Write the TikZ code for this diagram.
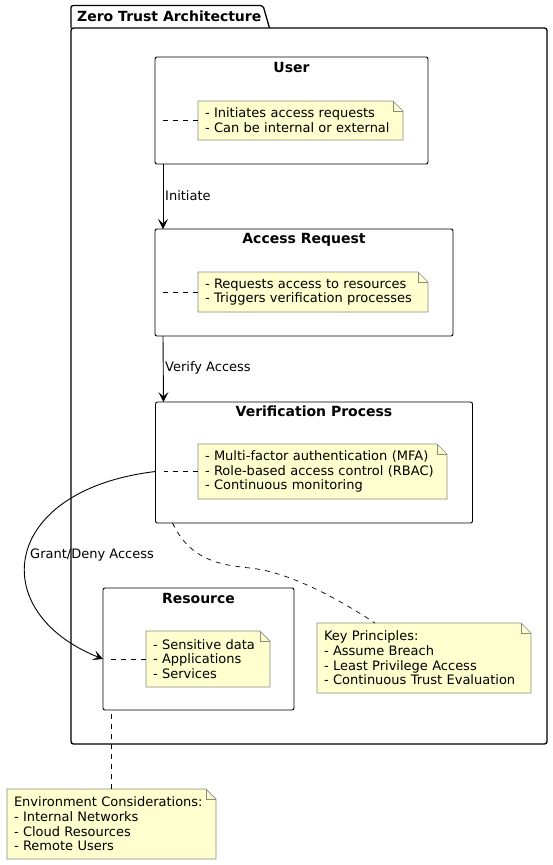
\documentclass[tikz,border=0pt]{standalone}
\usepackage{fontspec}
\setmainfont{DejaVu Sans}
\usetikzlibrary{arrows.meta,backgrounds}
\definecolor{notefill}{HTML}{FEFECE}
\definecolor{noteline}{HTML}{8A8A80}
\tikzset{
  box/.style={draw=black, line width=0.9pt, rounded corners=2pt, minimum width=#1, anchor=north west, inner sep=0pt, outer sep=0pt},
  boxtitle/.style={font=\fontsize{14}{16}\selectfont\bfseries, anchor=center, inner sep=0pt},
  note/.style={anchor=north west, inner xsep=7pt, inner ysep=0pt, outer sep=0pt, align=left, text width=#1, font=\fontsize{13}{14.7}\selectfont},
  elabel/.style={font=\fontsize{13}{15}\selectfont, anchor=west, inner sep=0pt},
  conn/.style={line width=0.9pt, -{Stealth[length=10pt,width=10pt,inset=4.5pt]}},
  notelink/.style={line width=0.7pt, dash pattern=on 5pt off 5pt},
  notebody/.style={fill=notefill, draw=noteline, line width=0.7pt},
}
\newcommand\foldnote[1]{%
  \begin{scope}[on background layer]
    \draw[notebody] (#1.north west) -- ([xshift=-10pt]#1.north east) -- ([yshift=-10pt]#1.north east) -- (#1.south east) -- (#1.south west) -- cycle;
    \draw[draw=noteline, line width=0.7pt] ([xshift=-10pt]#1.north east) |- ([yshift=-10pt]#1.north east);
  \end{scope}}
\begin{document}
\begin{tikzpicture}[x=1pt,y=-1pt]
\useasboundingbox (0,0) rectangle (552,865);
% package
\draw[line width=1.3pt, rounded corners=2.5pt] (71,28) -- (71,744) -- (547,744) -- (547,28) -- cycle;
\draw[line width=1.3pt, rounded corners=2pt] (71,28) -- (71,5.5) -- (263,5.5) -- (269.5,28);
\node[anchor=west, inner sep=0pt, font=\fontsize{14}{16}\selectfont\bfseries] (pkg) at (77,16.5) {Zero Trust Architecture};
% boxes
\node[box=273pt, minimum height=107pt] (user) at (155,57) {};
\node[boxtitle] (usert) at (291.5,67) {User};
\node[box=298pt, minimum height=107pt] (access) at (155,229) {};
\node[boxtitle] (accesst) at (304,239.5) {Access Request};
\node[box=317pt, minimum height=121pt] (verif) at (155.5,402) {};
\node[boxtitle] (verift) at (314,411.5) {Verification Process};
\node[box=191pt, minimum height=122pt] (res) at (103,588) {};
\node[boxtitle] (rest) at (198.5,598.5) {Resource};
% notes
\node[note=191pt, minimum height=39pt] (unote) at (198,101) {- Initiates access requests\\- Can be internal or external};
\foldnote{unote}
\node[note=216pt, minimum height=40pt] (anote) at (198,272) {- Requests access to resources\\- Triggers verification processes};
\foldnote{anote}
\node[note=235pt, minimum height=55pt] (vnote) at (198,444) {- Multi-factor authentication (MFA)\\- Role-based access control (RBAC)\\- Continuous monitoring};
\foldnote{vnote}
\node[note=110pt, minimum height=56pt] (rnote) at (146,631) {- Sensitive data\\- Applications\\- Services};
\foldnote{rnote}
\node[note=200pt, minimum height=70pt] (knote) at (317,623) {Key Principles:\\- Assume Breach\\- Least Privilege Access\\- Continuous Trust Evaluation};
\foldnote{knote}
\node[note=195pt, minimum height=70pt] (enote) at (7,789) {Environment Considerations:\\- Internal Networks\\- Cloud Resources\\- Remote Users};
\foldnote{enote}
% note links
\draw[notelink] (unote.west) -- ([xshift=8pt]user.west |- unote.west);
\draw[notelink] (anote.west) -- ([xshift=8pt]access.west |- anote.west);
\draw[notelink] (vnote.west) -- ([xshift=8pt]verif.west |- vnote.west);
\draw[notelink] (rnote.west) -- ([xshift=7pt]res.west |- rnote.west);
\draw[notelink] ([xshift=17pt]verif.south west) .. controls (190,560) and (220,565) .. (250,568) .. controls (290,572) and (340,600) .. ([xshift=58pt]knote.north west);
\draw[notelink] (enote.north) -- (enote.north |- res.south);
% connectors
\draw[conn] ([xshift=8pt]user.south west) -- ([xshift=8pt]access.north west);
\node[elabel] (lab1) at (165,196) {Initiate};
\draw[conn] ([xshift=8pt]access.south west) -- ([xshift=8pt]verif.north west);
\node[elabel] (lab2) at (165,368) {Verify Access};
\draw[conn] (verif.west |- vnote.west) .. controls (0,490) and (-15,612) .. (res.west |- rnote.west);
\node[elabel] (lab3) at (30,555) {Grant/Deny Access};
\end{tikzpicture}
\end{document}
